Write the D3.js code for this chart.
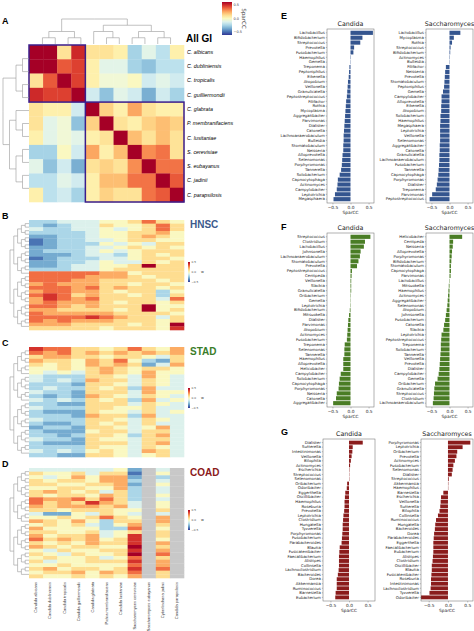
<!DOCTYPE html><html><head><meta charset="utf-8">
<script src="https://cdn.jsdelivr.net/npm/d3@7"></script>
<style>body{margin:0;background:#fff}svg{display:block}</style></head><body>
<svg id="c" width="474" height="631"></svg>
<script>
// ---------- DATA ----------
const speciesA = ["C. albicans","C. dubliniensis","C. tropicalis","C. guilliermondii","C. glabrata","P. membranifaciens","C. lusitaniae","S. cerevisiae","S. eubayanus","C. jadinii","C. parapsilosis"];
const matrixA = [
[1,.75,.1,.5,.1,.1,.05,-.25,-.1,-.2,.05],
[.75,1,.4,.45,.05,-.1,-.1,-.25,-.3,-.2,-.2],
[.1,.4,1,.45,.05,-.05,-.05,0,-.15,-.1,-.15],
[.5,.45,.45,1,-.15,-.3,-.1,-.15,-.35,-.15,-.25],
[.1,.05,.05,-.15,1,.15,.05,.25,.1,.05,.05],
[.1,-.1,-.05,-.3,.15,1,.1,.05,.15,.2,.15],
[.05,-.1,-.05,-.1,.05,.1,1,.2,.1,.2,.1],
[-.25,-.25,0,-.15,.25,.05,.2,1,.3,.35,.1],
[-.1,-.3,-.15,-.35,.1,.15,.1,.3,1,.35,.35],
[-.2,-.2,-.1,-.15,.05,.2,.2,.35,.35,1,.4],
[.05,-.2,-.15,-.25,.05,.15,.1,.1,.35,.4,1]];
const treeA = [[[0,1],[2,3]],[[4,[5,6]],[[7,8],[9,10]]]];
const fungiCols = ["Candida albicans","Candida dubliniensis","Candida tropicalis","Candida guilliermondii","Candida glabrata","Pichia membranifaciens","Candida lusitaniae","Saccharomyces cerevisiae","Saccharomyces eubayanus","Cyberlindnera jadinii","Candida parapsilosis"];
// SparCC x10
const hnsc = [[-2,-2,-1,-1,-1,0,0,1,3,1,0],[-2,-3,-2,-1,-1,1,0,0,1,3,1],[-1,-2,-2,-1,-1,0,-1,0,1,3,1],[-2,-2,-2,-2,-1,0,0,1,1,2,0],[-3,-3,-2,-2,-1,0,0,1,2,1,0],[-4,-3,-2,-2,-1,-1,0,1,1,0,0],[-4,-3,-2,-2,-2,0,-1,0,-1,1,1],[-3,-3,-2,-2,-1,-1,0,1,0,1,0],[-3,-2,-2,-2,-1,0,-1,0,1,1,1],[-3,-3,-3,-2,-1,-1,-2,0,1,0,1],[-4,-3,-2,-2,-2,-1,-1,0,1,1,0],[-3,-3,-2,-2,-1,0,-1,-1,1,0,1],[-3,-3,-2,-1,-1,0,0,1,5,1,1],[-2,-2,-2,-1,-1,0,1,1,1,1,1],[3,3,3,3,3,2,2,0,1,1,1],[3,3,3,3,2,2,2,1,0,1,1],[3,3,3,2,2,1,1,1,1,0,1],[2,3,2,2,2,1,1,0,1,1,0],[3,3,3,2,3,1,2,1,1,0,1],[2,3,3,2,2,1,0,1,1,-2,0],[3,4,3,1,2,1,1,0,1,-2,1],[2,4,3,2,3,1,1,1,1,-1,3],[2,3,2,2,2,1,0,1,1,0,1],[3,3,2,1,2,1,1,1,5,0,0],[2,2,1,1,1,1,0,1,5,0,1],[3,2,2,2,2,2,1,1,1,1,0],[3,3,3,3,4,3,2,1,1,-1,1],[3,2,3,2,2,2,1,1,1,0,1],[2,2,2,1,1,1,1,0,1,0,5],[1,1,1,1,1,0,1,1,1,0,4]];
const stad = [[4,3,3,1,1,0,1,3,1,0,2],[3,2,3,1,2,1,2,1,2,1,2],[1,2,2,1,1,0,1,1,0,-1,1],[2,1,1,0,2,1,3,0,-2,-3,1],[1,0,1,0,2,1,2,1,-3,-1,2],[0,0,1,0,1,2,1,0,1,1,0],[0,-1,0,-1,1,2,1,0,2,0,0],[-1,-2,-2,-2,1,1,0,-1,2,0,-1],[-1,-2,-1,-2,2,1,1,-1,1,0,-1],[-2,-2,-2,-3,1,1,0,-1,1,0,-1],[-2,-1,-2,-2,1,0,1,-2,2,-1,-1],[-1,-2,-2,-3,1,1,1,-1,2,0,0],[-2,-3,-2,-3,2,1,0,-1,1,0,-1],[-1,-2,-1,-2,1,0,1,-2,2,-1,0],[-2,-2,-3,-3,1,1,1,-1,1,0,-1],[-1,-2,-2,-2,1,1,0,0,1,-1,-1],[-2,-3,-3,-3,1,0,0,-1,1,-1,0],[-2,-2,-2,-3,2,1,1,-2,2,-1,-1],[-1,-2,-2,-2,1,1,0,-1,1,0,-1],[-2,-3,-3,-2,1,0,1,-1,1,-1,-1],[-3,-2,-2,-3,1,1,0,-1,0,2,-1],[-2,-3,-3,-3,0,1,1,-1,1,1,-1],[-2,-2,-3,-2,1,1,0,-2,1,2,-1],[-1,-2,-2,-3,1,0,0,-1,1,1,-1],[-2,-3,-3,-3,1,1,1,-1,1,2,-1],[-2,-2,-2,-2,1,0,0,-1,1,0,-1],[-1,-2,-1,-2,0,1,0,-1,2,1,-1],[-2,-2,-3,-3,1,1,0,-1,0,1,-1]];
const coad = [[-1,-1,-1,-1,-1,-1,0,-3,null,-1,null],[1,0,0,1,-1,1,1,-4,null,0,null],[0,-1,0,2,0,2,2,-3,null,-2,null],[1,0,1,1,0,2,2,-2,null,-1,null],[1,1,0,0,1,1,2,-3,null,0,null],[0,0,1,1,0,0,2,-2,null,-1,null],[1,2,1,0,1,-1,1,-2,null,-1,null],[1,0,1,1,0,2,1,-2,null,0,null],[3,2,2,3,1,3,1,-2,null,-1,null],[3,1,2,1,4,2,1,-1,null,0,null],[2,1,2,2,2,1,2,-1,null,0,null],[1,1,0,1,1,1,0,0,null,1,null],[-1,-3,-3,0,-1,1,0,-1,null,-1,null],[0,0,1,0,1,3,1,0,null,2,null],[2,1,0,2,0,-2,1,1,null,2,null],[0,1,0,1,-1,-2,0,2,null,1,null],[2,0,0,0,0,-2,-2,3,null,0,null],[1,1,0,0,1,-1,0,1,null,1,null],[2,0,1,1,2,-1,0,4,null,1,null],[3,1,2,1,2,0,1,4,null,0,null],[1,0,1,0,2,1,1,4,null,2,null],[2,1,0,1,1,0,0,5,null,1,null],[0,-1,1,0,0,1,1,4,null,2,null],[1,0,-1,1,0,0,1,5,null,3,null],[0,1,0,0,1,-1,0,3,null,1,null],[1,-1,0,0,1,1,1,4,null,2,null],[0,0,1,0,0,0,0,3,null,2,null],[1,2,0,1,1,0,1,4,null,3,null],[0,1,1,2,0,2,1,3,null,1,null],[1,0,0,1,0,1,0,2,null,1,null]];
const eCandN = ["Lactobacillus","Bifidobacterium","Streptococcus","Prevotella","Fusobacterium","Haemophilus","Gemella","Treponema","Peptoniphilus","Eikenella","Atopobium","Veillonella","Granulicatella","Peptostreptococcus","Filifactor","Rothia","Mycoplasma","Aggregatibacter","Parvimonas","Dialister","Catonella","Lachnoanaerobaculum","Bulleidia","Stomatobaculum","Neisseria","Alloprevotella","Selenomonas","Porphyromonas","Tannerella","Solobacterium","Capnocytophaga","Actinomyces","Campylobacter","Leptotrichia","Megasphaera"];
const eCandV = [0.62,0.33,0.27,0.1,0.08,0.01,0,-0.03,-0.04,-0.05,-0.07,-0.08,-0.09,-0.1,-0.12,-0.13,-0.14,-0.15,-0.16,-0.17,-0.18,-0.19,-0.19,-0.2,-0.2,-0.22,-0.23,-0.24,-0.26,-0.3,-0.35,-0.36,-0.38,-0.43,-0.47];
const eSacN = ["Lactobacillus","Mycoplasma","Rothia","Streptococcus","Bifidobacterium","Actinomyces","Bulleidia","Filifactor","Neisseria","Prevotella","Stomatobaculum","Peptoniphilus","Gemella","Campylobacter","Alloprevotella","Eikenella","Atopobium","Solobacterium","Haemophilus","Megasphaera","Leptotrichia","Veillonella","Selenomonas","Aggregatibacter","Catonella","Granulicatella","Lachnoanaerobaculum","Fusobacterium","Tannerella","Capnocytophaga","Porphyromonas","Dialister","Treponema","Parvimonas","Peptostreptococcus"];
const eSacV = [0.3,0.12,0.07,0.03,0.02,0.01,0,-0.1,-0.12,-0.13,-0.14,-0.15,-0.18,-0.22,-0.22,-0.23,-0.23,-0.25,-0.25,-0.26,-0.26,-0.26,-0.26,-0.27,-0.27,-0.28,-0.28,-0.29,-0.3,-0.31,-0.33,-0.35,-0.38,-0.48,-0.55];
const fCandN = ["Streptococcus","Clostridium","Lactobacillus","Johnsonella","Lachnoanaerobaculum","Stomatobaculum","Prevotella","Peptostreptococcus","Centipeda","Veillonella","Slackia","Granulicatella","Oribacterium","Gemella","Leptotrichia","Bifidobacterium","Mitsuokella","Dialister","Parvimonas","Atopobium","Actinomyces","Fusobacterium","Treponema","Selenomonas","Tannerella","Haemophilus","Alloprevotella","Helicobacter","Campylobacter","Solobacterium","Capnocytophaga","Porphyromonas","Neisseria","Catonella","Aggregatibacter"];
const fCandV = [0.55,0.4,0.37,0.28,0.26,0.22,0.18,0.04,0.03,0.02,0.02,0.02,0.01,0,-0.01,-0.02,-0.04,-0.06,-0.07,-0.08,-0.09,-0.1,-0.16,-0.17,-0.17,-0.2,-0.2,-0.2,-0.27,-0.3,-0.32,-0.33,-0.38,-0.4,-0.48];
const fSacN = ["Helicobacter","Centipeda","Neisseria","Alloprevotella","Porphyromonas","Bifidobacterium","Stomatobaculum","Capnocytophaga","Parvimonas","Lactobacillus","Mitsuokella","Haemophilus","Actinomyces","Aggregatibacter","Selenomonas","Atopobium","Johnsonella","Fusobacterium","Catonella","Slackia","Leptotrichia","Peptostreptococcus","Treponema","Solobacterium","Tannerella","Veillonella","Prevotella","Dialister","Campylobacter","Gemella","Oribacterium","Granulicatella","Streptococcus","Clostridium","Lachnoanaerobaculum"];
const fSacV = [0.35,0.1,0.09,0.07,0.06,0.05,0.04,0.04,0.03,0.01,-0.02,-0.03,-0.04,-0.05,-0.06,-0.08,-0.1,-0.12,-0.15,-0.17,-0.22,-0.23,-0.24,-0.24,-0.25,-0.26,-0.27,-0.28,-0.3,-0.33,-0.4,-0.42,-0.43,-0.44,-0.46];
const gCandN = ["Dialister","Sutterella","Intestinimonas","Veillonella","Bilophila","Actinomyces","Escherichia","Streptococcus","Selenomonas","Oribacterium","Odoribacter","Eggerthella","Oscillibacter","Haemophilus","Roseburia","Prevotella","Leptotrichia","Clostridium","Hungatella","Tyzzerella","Porphyromonas","Fusobacterium","Parabacteroides","Blautia","Fusicatenibacter","Faecalibacterium","Alistipes","Collinsella","Lachnoclostridium","Bacteroides","Dorea","Akkermansia","Ruminococcus","Barnesiella","Eubacterium"];
const gCandV = [0.37,0.1,0.09,0.07,0.05,0.03,0.01,0.005,0,-0.05,-0.06,-0.1,-0.11,-0.12,-0.12,-0.13,-0.15,-0.16,-0.17,-0.17,-0.18,-0.19,-0.2,-0.25,-0.26,-0.27,-0.27,-0.27,-0.28,-0.3,-0.33,-0.33,-0.33,-0.36,-0.37];
const gSacN = ["Porphyromonas","Leptotrichia","Oribacterium","Prevotella","Actinomyces","Fusobacterium","Selenomonas","Dialister","Streptococcus","Akkermansia","Haemophilus","Barnesiella","Escherichia","Veillonella","Sutterella","Bilophila","Collinsella","Ruminococcus","Hungatella","Bacteroides","Dorea","Parabacteroides","Eggerthella","Faecalibacterium","Eubacterium","Alistipes","Clostridium","Oscillibacter","Blautia","Fusicatenibacter","Roseburia","Intestinimonas","Lachnoclostridium","Tyzzerella","Odoribacter"];
const gSacV = [0.58,0.38,0.24,0.22,0.18,0.14,0.12,0.1,0.02,0.01,0,-0.12,-0.18,-0.19,-0.2,-0.22,-0.26,-0.31,-0.33,-0.34,-0.36,-0.37,-0.38,-0.38,-0.38,-0.39,-0.4,-0.42,-0.42,-0.43,-0.44,-0.44,-0.45,-0.48,-0.7];
const barTicks = [-0.5,0,0.5];

// ---------- DRAW ----------
const svg = d3.select("#c");
const SANS = "Liberation Sans, Arial, sans-serif";
const DJ = "DejaVu Sans, sans-serif";
const colA = d3.scaleSequential(d3.interpolateRdYlBu).domain([0.6,-0.6]);
const colH = d3.scaleSequential(d3.interpolateRdYlBu).domain([0.5,-0.5]);

function letter(t,x,y){svg.append("text").attr("x",x).attr("y",y).attr("font-family",SANS).attr("font-weight","bold").attr("font-size",9).text(t);}

function dendro(tree, x0,y0,x1,y1, orient){
  const root = d3.hierarchy(tree, d=>Array.isArray(d)?d:null);
  const span = orient==="left"? y1-y0 : x1-x0;
  const depth = orient==="left"? x1-x0 : y1-y0;
  const n = root.leaves().length, step = span/n;
  d3.cluster().separation(()=>1).size([span-step, depth])(root);
  const P = d=> orient==="left"? [x0+d.y, y0+step/2+d.x] : [x0+step/2+d.x, y0+d.y];
  const g = svg.append("g").attr("fill","none").attr("stroke","#999").attr("stroke-width",0.6);
  root.links().forEach(l=>{
    const [px,py]=P(l.source),[cx,cy]=P(l.target);
    g.append("path").attr("d", orient==="left"? `M${px},${py}V${cy}H${cx}` : `M${px},${py}H${cx}V${cy}`);
  });
}
function halves(idx){ if(idx.length<=1) return idx[0]; const m=Math.ceil(idx.length/2); return [halves(idx.slice(0,m)),halves(idx.slice(m))]; }

// Panel A
letter("A",2,24);
const xA = d3.scaleBand().domain(d3.range(11)).range([29,184]);
const yA = d3.scaleBand().domain(d3.range(11)).range([45,202]);
svg.append("g").selectAll("rect").data(matrixA.flatMap((r,i)=>r.map((v,j)=>({i,j,v})))).join("rect")
 .attr("x",d=>xA(d.j)).attr("y",d=>yA(d.i)).attr("width",xA.bandwidth()+0.3).attr("height",yA.bandwidth()+0.3).attr("fill",d=>colA(d.v));
svg.append("rect").attr("x",xA(0)).attr("y",yA(0)).attr("width",xA(4)-xA(0)).attr("height",yA(4)-yA(0)).attr("fill","none").attr("stroke","#3b1e8c").attr("stroke-width",1.5);
svg.append("rect").attr("x",xA(4)).attr("y",yA(4)).attr("width",184-xA(4)).attr("height",202-yA(4)).attr("fill","none").attr("stroke","#3b1e8c").attr("stroke-width",1.5);
dendro(treeA,3,45,29,202,"left");
dendro(treeA,29,19,184,44,"top");
svg.append("g").selectAll("text").data(speciesA).join("text").attr("x",187).attr("y",(d,i)=>yA(i)+yA.bandwidth()/2+1.8)
 .attr("font-family",SANS).attr("font-style","italic").attr("font-size",5.3).text(d=>d);
svg.append("text").attr("x",186).attr("y",42).attr("font-family",SANS).attr("font-weight","bold").attr("font-size",10).text("All GI");
function colorbar(x,y,w,h,scale,vals,fs,label,lx){
  const id="g"+Math.round(x)+"_"+Math.round(y);
  const gr=svg.append("defs").append("linearGradient").attr("id",id).attr("x1",0).attr("y1",0).attr("x2",0).attr("y2",1);
  d3.range(11).forEach(k=>gr.append("stop").attr("offset",k/10).attr("stop-color",scale(scale.domain()[0]+(scale.domain()[1]-scale.domain()[0])*k/10)));
  svg.append("rect").attr("x",x).attr("y",y).attr("width",w).attr("height",h).attr("fill",`url(#${id})`);
  const ys=d3.scaleLinear().domain(scale.domain()).range([y,y+h]);
  vals.forEach(v=>{svg.append("text").attr("x",x+w+1.5).attr("y",ys(v)+fs/3).attr("font-family",DJ).attr("font-size",fs).attr("fill","#444").text(d3.format(".1f")(v).replace("-","−"));});
  if(label) svg.append("text").attr("transform",`translate(${lx},${y+h/2}) rotate(90)`).attr("text-anchor","middle").attr("font-family",DJ).attr("font-size",fs*1.6).attr("fill","#444").text(label);
}
colorbar(222,2,10,33,colA,[0.5,0,-0.5],3.5,"SparCC",242);

// Panels B-D
const xH = d3.scaleBand().domain(d3.range(11)).range([29,184]);
function heat(data,y0,y1,L,title,tcol,cbY){
  letter(L,2,y0-1);
  const y=d3.scaleBand().domain(d3.range(data.length)).range([y0,y1]);
  svg.append("g").selectAll("rect").data(data.flatMap((r,i)=>r.map((v,j)=>({i,j,v})))).join("rect")
   .attr("x",d=>xH(d.j)).attr("y",d=>y(d.i)).attr("width",xH.bandwidth()+0.3).attr("height",y.bandwidth()+0.3)
   .attr("fill",d=>d.v===null?"#c8c8c8":colH(d.v/10));
  dendro(halves(d3.range(data.length)),10,y0,29,y1,"left");
  svg.append("text").attr("x",190).attr("y",y0+8).attr("font-family",SANS).attr("font-weight","bold").attr("font-size",10).attr("fill",tcol).text(title);
  colorbar(188,cbY,2,20,colH,[0.5,0,-0.5],2.8,null);
  svg.append("text").attr("x",201).attr("y",cbY+11).attr("font-family",DJ).attr("font-size",3.5).attr("fill","#444").text("w");
}
heat(hnsc,220,330,"B","HNSC","#3c5a8c",262);
heat(stad,347,457,"C","STAD","#3a7d2a",388);
heat(coad,468,578,"D","COAD","#8b1a1a",510);
svg.append("g").selectAll("text").data(fungiCols).join("text")
 .attr("transform",(d,i)=>`translate(${xH(i)+xH.bandwidth()/2+1.3},582) rotate(-90)`).attr("text-anchor","end")
 .attr("font-family",SANS).attr("font-size",4).attr("fill","#333").text(d=>d);

// Bar panels
function bars(names,vals,x0,x1,y0,y1,dom,color,title){
  const x=d3.scaleLinear().domain(dom).range([x0,x1]);
  const y=d3.scaleBand().domain(names).range([y0+1,y1-1]).padding(0.15);
  svg.append("g").selectAll("rect").data(vals).join("rect")
   .attr("x",v=>x(Math.min(0,v))).attr("y",(v,i)=>y(names[i])).attr("width",v=>Math.max(0.3,Math.abs(x(v)-x(0))))
   .attr("height",y.bandwidth()).attr("fill",color);
  svg.append("rect").attr("x",x0).attr("y",y0).attr("width",x1-x0).attr("height",y1-y0).attr("fill","none").attr("stroke","#666").attr("stroke-width",0.5);
  const gy=svg.append("g").attr("transform",`translate(${x0},0)`).call(d3.axisLeft(y).tickSize(1.2).tickPadding(1));
  gy.select(".domain").remove();
  gy.selectAll("text").attr("font-family",DJ).attr("font-size",3.9).attr("fill","#222");
  gy.selectAll("line").attr("stroke","#444").attr("stroke-width",0.3);
  const gx=svg.append("g").attr("transform",`translate(0,${y1})`).call(d3.axisBottom(x).tickValues(barTicks).tickFormat(d=>d3.format(".1f")(d).replace("-","−")).tickSize(1.5).tickPadding(1));
  gx.select(".domain").remove();
  gx.selectAll("text").attr("font-family",DJ).attr("font-size",4.3).attr("fill","#222");
  gx.selectAll("line").attr("stroke","#444").attr("stroke-width",0.3);
  svg.append("text").attr("x",(x0+x1)/2).attr("y",y1+11).attr("text-anchor","middle").attr("font-family",DJ).attr("font-size",4.3).attr("fill","#222").text("SparCC");
  svg.append("text").attr("x",(x0+x1)/2).attr("y",y0-3).attr("text-anchor","middle").attr("font-family",DJ).attr("font-size",6.3).attr("fill","#222").text(title);
}
letter("E",281,19); letter("F",281,230); letter("G",281,435);
bars(eCandN,eCandV,327,374,29,203,[-0.65,0.65],"#34558f","Candida");
bars(eSacN,eSacV,426,473,29,203,[-0.65,0.65],"#34558f","Saccharomyces");
bars(fCandN,fCandV,327,374,233,407,[-0.65,0.65],"#4a7d25","Candida");
bars(fSacN,fSacV,426,473,233,407,[-0.65,0.65],"#4a7d25","Saccharomyces");
bars(gCandN,gCandV,323,375,439,601,[-0.7,0.7],"#8a1c1c","Candida");
bars(gSacN,gSacV,421,473,439,601,[-0.7,0.65],"#8a1c1c","Saccharomyces");
</script></body></html>
